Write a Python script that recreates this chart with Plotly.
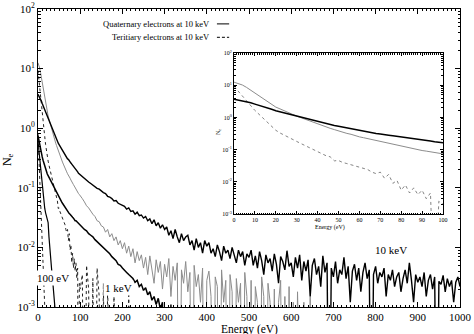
import numpy as np
import plotly.graph_objects as go

# Energy grid: 2 eV bins up to 100 eV, 5 eV bins above
energy_lo = np.arange(0, 101, 2)
energy_hi = np.arange(105, 1001, 5)

# 10 keV, quaternary electrons (thick black)
q10_lo = [3.7, 3.5, 3.3, 3.1, 2.85, 2.6, 2.4, 2.2, 2.0, 1.8, 1.62, 1.5, 1.4, 1.3, 1.19, 1.1,
          1.02, 0.95, 0.87, 0.79, 0.73, 0.69, 0.65, 0.60, 0.56, 0.53, 0.50, 0.47, 0.44, 0.41,
          0.39, 0.37, 0.35, 0.34, 0.32, 0.305, 0.30, 0.28, 0.27, 0.26, 0.25, 0.24, 0.235, 0.22,
          0.21, 0.20, 0.195, 0.185, 0.175, 0.17, 0.165]
q10_hi = [0.155, 0.14, 0.135, 0.125, 0.118, 0.11, 0.104, 0.098, 0.095, 0.088,
          0.083, 0.08, 0.072, 0.07, 0.066, 0.06, 0.061, 0.055, 0.053, 0.05,
          0.049, 0.044, 0.046, 0.04, 0.041, 0.036, 0.039, 0.034, 0.035, 0.031,
          0.033, 0.028, 0.03, 0.025, 0.029, 0.023, 0.026, 0.021, 0.024, 0.02,
          0.022, 0.016, 0.019, 0.014, 0.02, 0.015, 0.012, 0.017, 0.013, 0.015,
          0.016, 0.011, 0.013, 0.009, 0.014, 0.01, 0.012, 0.008, 0.013, 0.0105,
          0.012, 0.008, 0.0095, 0.007, 0.011, 0.0085, 0.006, 0.0105, 0.008, 0.009,
          0.0065, 0.01, 0.0075, 0.0055, 0.009, 0.007, 0.0085, 0.005, 0.0078, 0.0068,
          0.009, 0.005, 0.0072, 0.0045, 0.0085, 0.006, 0.0035, 0.0075, 0.0055, 0.0065,
          0.004, 0.0078, 0.0052, 0.0025, 0.007, 0.0058, 0.0042, 0.0088, 0.0048, 0.0055,
          0.0032, 0.0068, 0.0045, 0.0075, 0.0028, 0.0058, 0.004, 0.0062, 0.0015, 0.005,
          0.0065, 0.0035, 0.0048, 0.0022, 0.0072, 0.0038, 0.0055, 0.0, 0.0045, 0.0032,
          0.0058, 0.0025, 0.0042, 0.0035, 0.0068, 0.003, 0.0048, 0.0012, 0.004, 0.0052,
          0.0028, 0.0045, 0.0018, 0.0038, 0.0055, 0.003, 0.0042, 0.0, 0.0035, 0.0048,
          0.0025, 0.0038, 0.0032, 0.0045, 0.0015, 0.0035, 0.0028, 0.0042, 0.0022, 0.0032,
          0.0038, 0.0018, 0.003, 0.0042, 0.0025, 0.0055, 0.0028, 0.0012, 0.0035, 0.0026,
          0.0032, 0.0022, 0.0038, 0.0015, 0.0028, 0.0035, 0.002, 0.0032, 0.0, 0.0027,
          0.0024, 0.0034, 0.0018, 0.003, 0.0022, 0.0028, 0.0012, 0.0026, 0.0032, 0.0022]

# 10 keV, grey solid curve
g10_lo = [12.5, 11.5, 10.2, 8.6, 7.0, 5.6, 4.6, 3.8, 3.1, 2.55, 2.1, 1.85, 1.6, 1.42, 1.25, 1.1,
          0.98, 0.88, 0.78, 0.70, 0.62, 0.56, 0.51, 0.46, 0.42, 0.38, 0.35, 0.32, 0.30, 0.27,
          0.25, 0.235, 0.22, 0.20, 0.185, 0.172, 0.165, 0.155, 0.145, 0.135, 0.125, 0.12, 0.113,
          0.107, 0.10, 0.094, 0.09, 0.085, 0.08, 0.077, 0.074]
g10_hi = [0.066, 0.058, 0.05, 0.046, 0.04, 0.036, 0.033, 0.028, 0.027, 0.023,
          0.022, 0.018, 0.02, 0.015, 0.017, 0.013, 0.015, 0.011, 0.013, 0.0095,
          0.012, 0.008, 0.0105, 0.007, 0.0095, 0.0055, 0.0085, 0.006, 0.0075, 0.0045,
          0.0068, 0.0035, 0.0072, 0.0042, 0.0025, 0.0062, 0.0038, 0.0058, 0.002, 0.0052,
          0.0032, 0.0065, 0.0015, 0.0048, 0.0028, 0.0055, 0.0, 0.0042, 0.0025, 0.0058,
          0.0018, 0.0038, 0.0, 0.005, 0.0022, 0.0035, 0.0012, 0.0045, 0.0, 0.0028,
          0.004, 0.0015, 0.0, 0.0032, 0.0022, 0.0, 0.0042, 0.0012, 0.0028, 0.0,
          0.0035, 0.0018, 0.0, 0.003, 0.0012, 0.0025, 0.0, 0.0038, 0.0015, 0.0,
          0.0028, 0.0, 0.0022, 0.0012, 0.0, 0.0032, 0.0015, 0.0, 0.0025, 0.0012,
          0.0, 0.002, 0.0, 0.0012, 0.0028, 0.0, 0.0015, 0.0, 0.0022, 0.0,
          0.0012, 0.0, 0.0018, 0.0, 0.0, 0.0012, 0.0, 0.0, 0.0015, 0.0]

# tertiary electrons (dotted)
t_lo = [9.3, 6.5, 4.6, 3.3, 2.3, 1.65, 1.25, 0.95, 0.72, 0.53, 0.40, 0.33, 0.28, 0.24, 0.21,
        0.18, 0.155, 0.135, 0.115, 0.10, 0.085, 0.075, 0.065, 0.06, 0.045, 0.046, 0.04, 0.037,
        0.034, 0.03, 0.029, 0.026, 0.024, 0.02, 0.018, 0.02, 0.013, 0.017, 0.009, 0.011, 0.0055,
        0.008, 0.0045, 0.0065, 0.004, 0.0055, 0.003, 0.0045, 0.0, 0.0025, 0.002]
t_hi = [0.0035, 0.0, 0.005, 0.002, 0.0, 0.003, 0.0, 0.0045, 0.0015, 0.0, 0.0025, 0.0,
        0.002, 0.0, 0.0, 0.0015, 0.0, 0.0, 0.0, 0.0, 0.0, 0.0, 0.0025, 0.0]

# 1 keV quaternary (black solid)
q1_lo = [0.75, 0.62, 0.52, 0.44, 0.38, 0.33, 0.29, 0.255, 0.225, 0.2, 0.185, 0.17, 0.16, 0.15,
         0.14, 0.13, 0.12, 0.112, 0.105, 0.098, 0.092, 0.086, 0.081, 0.076, 0.072, 0.068, 0.064,
         0.061, 0.058, 0.055, 0.052, 0.05, 0.047, 0.045, 0.043, 0.041, 0.039, 0.037, 0.036,
         0.034, 0.033, 0.032, 0.031, 0.029, 0.028, 0.028, 0.027, 0.026, 0.025, 0.024, 0.024]
q1_hi = [0.022, 0.02, 0.019, 0.017, 0.016, 0.015, 0.0135, 0.0125, 0.0115, 0.0105,
         0.0098, 0.009, 0.0082, 0.0078, 0.007, 0.0065, 0.006, 0.0052, 0.005, 0.0045,
         0.0042, 0.0038, 0.0035, 0.0032, 0.003, 0.0026, 0.0028, 0.0022, 0.0024, 0.0019,
         0.0021, 0.0016, 0.0018, 0.0013, 0.0015, 0.0011, 0.0014, 0.0009, 0.0012, 0.0,
         0.001, 0.0, 0.0011, 0.0]

# 100 eV curves
e100 = np.arange(0, 43, 2)
q100 = [0.6, 0.42, 0.3, 0.21, 0.15, 0.11, 0.08, 0.06, 0.045, 0.038, 0.034, 0.031, 0.026,
        0.015, 0.0085, 0.006, 0.0045, 0.0032, 0.0022, 0.0015, 0.001, 0.0]
t100 = [0.8, 0.35, 0.15, 0.07, 0.03, 0.014, 0.006, 0.0025, 0.001, 0.0]

FLOOR = 1e-6  # empty bins drop below the axis on a log scale


def floor(v):
    return [x if x > 0 else FLOOR for x in v]


e10 = np.concatenate([energy_lo, energy_hi])
q10 = q10_lo + q10_hi
g10 = g10_lo + g10_hi
e_g10 = e10[:len(g10)]
t10 = t_lo + t_hi
e_t10 = e10[:len(t10)]
q1 = q1_lo + q1_hi
e_q1 = e10[:len(q1)]

SERIF = "Liberation Serif"
fig = go.Figure()

# main panel
fig.add_trace(go.Scatter(x=e_g10, y=floor(g10), mode="lines", line=dict(color="#8c8c8c", width=1)))
fig.add_trace(go.Scatter(x=e_t10, y=floor(t10), mode="lines", line=dict(color="#222", width=1, dash="dot")))
fig.add_trace(go.Scatter(x=e100, y=floor(q100), mode="lines", line=dict(color="black", width=1.2)))
fig.add_trace(go.Scatter(x=e100[:len(t100)], y=floor(t100), mode="lines", line=dict(color="#222", width=1, dash="dot")))
fig.add_trace(go.Scatter(x=e_q1, y=floor(q1), mode="lines", line=dict(color="black", width=1.5)))
fig.add_trace(go.Scatter(x=e10, y=floor(q10), mode="lines", line=dict(color="black", width=1.4)))

# inset panel: 0-100 eV detail of the 10 keV curves
fig.add_trace(go.Scatter(x=energy_lo, y=floor(g10_lo), mode="lines", line=dict(color="#8c8c8c", width=1), xaxis="x2", yaxis="y2"))
fig.add_trace(go.Scatter(x=energy_lo, y=floor(t_lo), mode="lines", line=dict(color="#666", width=0.8, dash="dot"), xaxis="x2", yaxis="y2"))
fig.add_trace(go.Scatter(x=energy_lo, y=floor(q10_lo), mode="lines", line=dict(color="black", width=1.5), xaxis="x2", yaxis="y2"))

decades = [1e-3, 1e-2, 1e-1, 1, 10, 100]
dec_text = ["10<sup>-3</sup>", "10<sup>-2</sup>", "10<sup>-1</sup>", "10<sup>0</sup>", "10<sup>1</sup>", "10<sup>2</sup>"]

axis_common = dict(showline=True, linecolor="black", linewidth=1, mirror="ticks", ticks="inside",
                   tickcolor="black", showgrid=False, zeroline=False, automargin=False)

fig.update_layout(
    width=474, height=334,
    margin=dict(l=38, r=14, t=9, b=27),
    paper_bgcolor="white", plot_bgcolor="white",
    showlegend=False,
    font=dict(family=SERIF, color="black"),
    xaxis=dict(**axis_common, range=[0, 1000], dtick=100, ticklen=5, tickfont=dict(size=11),
               minor=dict(ticks="inside", dtick=10, ticklen=2, tickcolor="black")),
    yaxis=dict(**axis_common, type="log", range=[-3, 2], tickvals=decades, ticktext=dec_text,
               ticklen=5, tickfont=dict(size=11),
               minor=dict(ticks="inside", dtick="D1", ticklen=2.5, tickcolor="black")),
    xaxis2=dict(**axis_common, domain=[0.4645, 0.9597], anchor="y2", range=[0, 100], dtick=10,
                ticklen=3, tickfont=dict(size=6),
                minor=dict(ticks="inside", dtick=1, ticklen=1.5, tickcolor="black")),
    yaxis2=dict(**axis_common, domain=[0.312, 0.852], anchor="x2", type="log", range=[-3, 2],
                tickvals=decades, ticktext=dec_text, ticklen=3, tickfont=dict(size=6),
                minor=dict(ticks="inside", dtick="D1", ticklen=1.5, tickcolor="black")),
)


def note(text, x, y, size, **kw):
    base = dict(text=text, x=x, y=y, xref="paper", yref="paper", showarrow=False,
                font=dict(size=size), xanchor="center", yanchor="middle")
    base.update(kw)
    return base


annotations = [
    note("Energy (eV)", 0.5, -0.075, 11.5),
    note("N<sub>e</sub>", -0.071, 0.493, 12, textangle=-90),
    note("Energy (eV)", 0.692, 0.266, 6),
    note("N<sub>e</sub>", 0.4265, 0.587, 6, textangle=-90),
    note("Quaternary electrons at 10 keV", 0.412, 0.95, 8.5, xanchor="right"),
    note("Teritiary electrons at 10 keV", 0.412, 0.905, 8.5, xanchor="right"),
    note("10 keV", 836, np.log10(0.0091), 11, xref="x", yref="y"),
    note("1 keV", 190, np.log10(0.0021), 11, xref="x", yref="y", bgcolor="white"),
    note("100 eV", 36, np.log10(0.0031), 11, xref="x", yref="y", bgcolor="white"),
]
fig.update_layout(annotations=annotations)

# legend line samples
fig.add_shape(type="line", xref="paper", yref="paper", x0=0.424, x1=0.453, y0=0.95, y1=0.95,
              line=dict(color="black", width=1))
fig.add_shape(type="line", xref="paper", yref="paper", x0=0.424, x1=0.453, y0=0.905, y1=0.905,
              line=dict(color="black", width=1, dash="3px,2px"))

fig.write_html("out.html")
